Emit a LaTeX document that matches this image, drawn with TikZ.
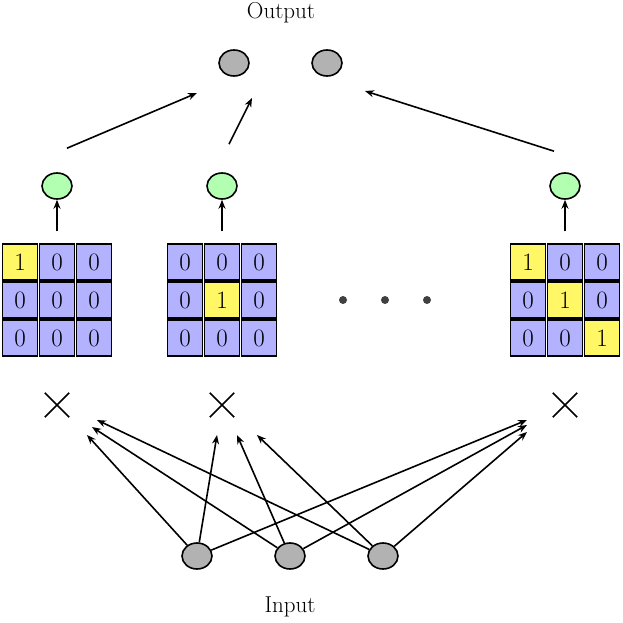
\documentclass[tikz,border=0pt]{standalone}
\usetikzlibrary{shapes.geometric,arrows.meta}
\begin{document}
\begin{tikzpicture}[x=1pt,y=-1pt,
  neu/.style={ellipse,draw,line width=1.6pt,minimum width=30pt,minimum height=26pt,inner sep=0pt},
  gry/.style={neu,fill=black!30},
  grn/.style={neu,fill=green!30},
  cell/.style={draw,line width=1.2pt,minimum width=35pt,minimum height=36pt,inner sep=0pt,font=\fontsize{25}{27}\selectfont},
  cb/.style={cell,fill=blue!30},
  cy/.style={cell,fill=yellow!60},
  arr/.style={-{Stealth[length=9pt,width=7pt]},line width=1.6pt},
  lbl/.style={font=\fontsize{23}{26}\selectfont}]
\useasboundingbox (0,0) rectangle (623,623);
\node[lbl] (out) at (281,13) {Output};
\node[lbl] (in) at (290,607) {Input};
\node[gry] (o1) at (234,63) {};
\node[gry] (o2) at (327,63) {};
\node[grn] (g1) at (57,186) {};
\node[grn] (g2) at (222,186) {};
\node[grn] (g3) at (565,186) {};
% matrices
\foreach \name/\x/\a/\e/\i/\ta/\te/\ti in {A/20/cy/cb/cb/1/0/0, B/185/cb/cy/cb/0/1/0, C/528/cy/cy/cy/1/1/1}{
  \node[\a] (\name11) at (\x,262) {\ta};
  \node[cb] (\name12) at (\x+37,262) {0};
  \node[cb] (\name13) at (\x+74,262) {0};
  \node[cb] (\name21) at (\x,300) {0};
  \node[\e] (\name22) at (\x+37,300) {\te};
  \node[cb] (\name23) at (\x+74,300) {0};
  \node[cb] (\name31) at (\x,338) {0};
  \node[cb] (\name32) at (\x+37,338) {0};
  \node[\i] (\name33) at (\x+74,338) {\ti};
}
\foreach \x [count=\k] in {343,385,427} \fill[black!75] (\x,300) circle (4pt) coordinate (dot\k);
\draw[arr] (A12.north) ++(0,-12) -- (g1);
\draw[arr] (B12.north) ++(0,-12) -- (g2);
\draw[arr] (C12.north) ++(0,-12) -- (g3);
\foreach \x/\n in {57/m1,222/m2,565/m3}{
  \node[inner sep=0pt,minimum size=24pt] (\n) at (\x,405) {};
  \draw[line width=1.6pt] (\n.north west) -- (\n.south east) (\n.north east) -- (\n.south west);
}
\coordinate (t1) at (197,93);
\coordinate (t2) at (252,98);
\coordinate (t3) at (365,91);
\draw[arr] (g1.north) ++(10,-24) -- (t1);
\draw[arr] (g2.north) ++(7,-28) -- (t2);
\draw[arr] (g3.north) ++(-11,-21) -- (t3);
\node[gry] (i1) at (197,556) {};
\node[gry] (i2) at (290,556) {};
\node[gry] (i3) at (383,556) {};
\coordinate (a1) at (87,435); \coordinate (a2) at (92,427); \coordinate (a3) at (97,420);
\coordinate (b1) at (217,435); \coordinate (b2) at (237,435); \coordinate (b3) at (257,435);
\coordinate (c1) at (527,420); \coordinate (c2) at (527,425); \coordinate (c3) at (527,432);
\draw[arr] (i1) -- (a1); \draw[arr] (i1) -- (b1); \draw[arr] (i1) -- (c1);
\draw[arr] (i2) -- (a2); \draw[arr] (i2) -- (b2); \draw[arr] (i2) -- (c2);
\draw[arr] (i3) -- (a3); \draw[arr] (i3) -- (b3); \draw[arr] (i3) -- (c3);
\end{tikzpicture}
\end{document}
